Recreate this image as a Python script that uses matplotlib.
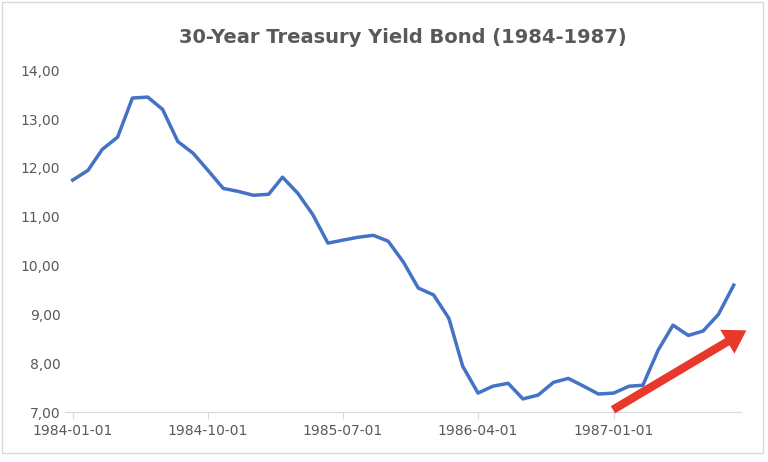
import matplotlib.pyplot as plt
import matplotlib.dates as mdates
import numpy as np
import pandas as pd

dates = pd.date_range("1984-01-01", periods=45, freq="MS")
yields = [11.75, 11.95, 12.38, 12.63, 13.43, 13.45, 13.20, 12.54, 12.30, 11.95,
          11.58, 11.52, 11.44, 11.46, 11.81, 11.48, 11.05, 10.46, 10.52, 10.58,
          10.62, 10.50, 10.07, 9.54, 9.40, 8.92, 7.94, 7.39, 7.53, 7.59,
          7.27, 7.35, 7.61, 7.69, 7.53, 7.37, 7.39, 7.53, 7.55, 8.27,
          8.78, 8.57, 8.66, 9.00, 9.60]
tick_dates = pd.to_datetime(["1984-01-01", "1984-10-01", "1985-07-01", "1986-04-01", "1987-01-01"])

fig = plt.figure(figsize=(7.68, 4.62), dpi=100)
ax = fig.add_axes([0.085, 0.108, 0.88, 0.74])
ax.plot(dates, yields, color="#4472c4", lw=2.5)
ax.set_ylim(7, 14)
ax.set_yticks(np.arange(7, 14.01, 1))
ax.set_yticklabels([f"{v:.2f}".replace(".", ",") for v in np.arange(7, 14.01, 1)])
ax.set_xlim(dates[0] - pd.Timedelta(days=15), dates[-1] + pd.Timedelta(days=15))
ax.set_xticks(tick_dates)
ax.xaxis.set_major_formatter(mdates.DateFormatter("%Y-%m-%d"))
for s in ["top", "right", "left"]:
    ax.spines[s].set_visible(False)
ax.spines["bottom"].set_color("#d9d9d9")
ax.tick_params(axis="y", length=0, labelsize=10, colors="#595959")
ax.tick_params(axis="x", length=5, color="#d9d9d9", labelsize=10, colors="#595959")
fig.suptitle("30-Year Treasury Yield Bond (1984-1987)", x=0.525, y=0.94,
             fontsize=14, fontweight="bold", color="#595959")
ax.annotate("", xy=(0.975, 0.288), xytext=(0.795, 0.11), xycoords="figure fraction",
            textcoords="figure fraction",
            arrowprops=dict(arrowstyle="simple,head_width=2.0,head_length=1.6,tail_width=0.6",
                            color="#e8382b", lw=0))
fig.patches.append(plt.Rectangle((0.003, 0.02), 0.99, 0.975, transform=fig.transFigure,
                                 fill=False, ec="#d9d9d9", lw=1))
fig.savefig("out.png")
